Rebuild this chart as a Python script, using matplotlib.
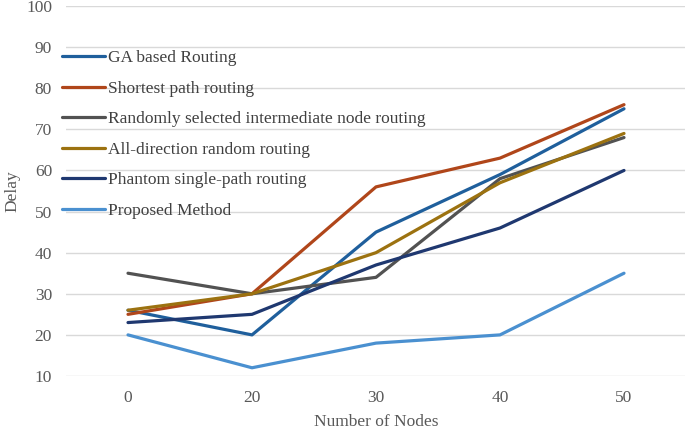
import matplotlib
matplotlib.use("Agg")
import matplotlib.pyplot as plt

categories = ["0", "20", "30", "40", "50"]
series_names = [
    "GA based Routing",
    "Shortest path routing",
    "Randomly selected intermediate node routing",
    "All-direction random routing",
    "Phantom single-path routing",
    "Proposed Method",
]
ga_based = [26, 20, 45, 59, 75]
shortest_path = [25, 30, 56, 63, 76]
random_intermediate = [35, 30, 34, 58, 68]
all_direction = [26, 30, 40, 57, 69]
phantom_single = [23, 25, 37, 46, 60]
proposed = [20, 12, 18, 20, 35]
y_ticks = [10, 20, 30, 40, 50, 60, 70, 80, 90, 100]

colors = ["#1f5f9c", "#b0461a", "#525252", "#9c7210", "#1f3870", "#4a90d0"]
values = [ga_based, shortest_path, random_intermediate, all_direction, phantom_single, proposed]

plt.rcParams['font.family'] = ['Liberation Serif', 'DejaVu Serif']

fig = plt.figure(figsize=(6.85, 4.29), dpi=100)
ax = fig.add_axes([66/685, 53/429, 620/685, 370/429])

x = list(range(len(categories)))
for name, vals, c in zip(series_names, values, colors):
    ax.plot(x, vals, color=c, lw=2.3, label=name, solid_capstyle='round', solid_joinstyle='round')

ax.set_xlim(-0.5, len(categories) - 0.5)
ax.set_ylim(10, 100)
ax.set_yticks(y_ticks)
ax.set_xticks(x)
ax.set_xticklabels(categories)
ax.grid(axis='y', color='#d9d9d9', lw=1)
ax.set_axisbelow(True)
for s in ax.spines.values():
    s.set_visible(False)
ax.tick_params(length=0, labelsize=12.5, labelcolor='#595959', pad=10)
ax.tick_params(axis='y', pad=10)

fig.text(12/685, 1 - 191/429, "Delay", rotation=90, fontsize=12.5, color='#595959',
         ha='center', va='center')
ax.set_xlabel("Number of Nodes", fontsize=12.5, color='#595959', labelpad=6)

leg = ax.legend(loc='upper left', bbox_to_anchor=(62/685, 1 - 50/429),
                bbox_transform=fig.transFigure, frameon=False, fontsize=12.5,
                handlelength=2.5, handletextpad=0.15, labelspacing=0.83,
                borderpad=0, borderaxespad=0)
for t in leg.get_texts():
    t.set_color('#404040')

fig.savefig("out.png", dpi=100)
